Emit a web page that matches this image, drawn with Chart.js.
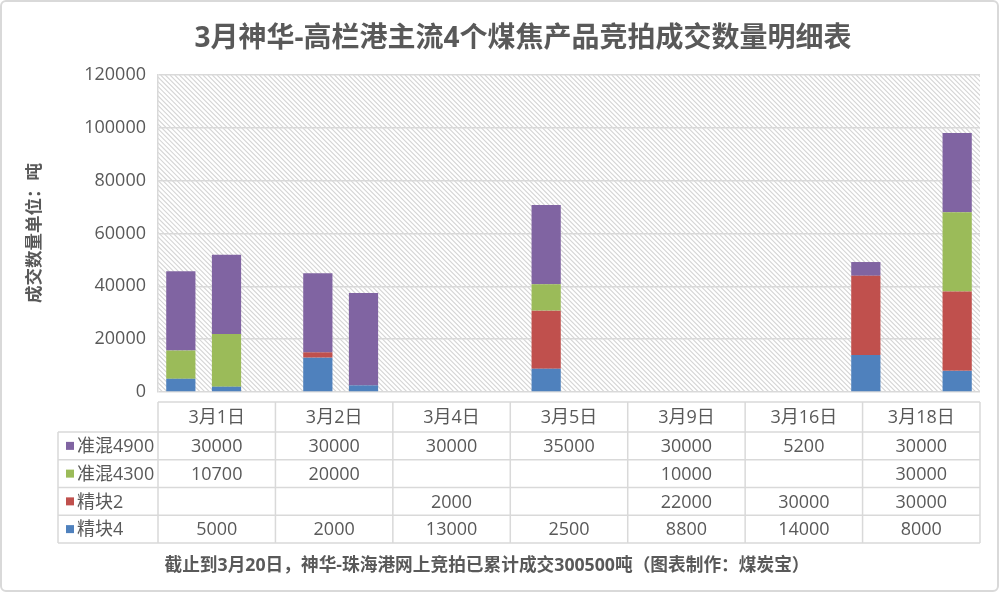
<!DOCTYPE html>
<html lang="zh">
<head>
    <meta charset="UTF-8">
    <title>3月神华-高栏港主流4个煤焦产品竞拍成交数量明细表</title>
    <script src="https://cdn.jsdelivr.net/npm/chart.js"></script>
    <style>
        body { margin: 0; background: #fff; }
        #wrap { width: 1000px; height: 593px; position: relative; }
    </style>
</head>
<body>

    <div id="wrap"><canvas id="auctionChart"></canvas></div>

    <script>
        // 表格里的日期，以及它们在日期轴上的位置（3月1日 ~ 3月18日）
        var dates = ['3月1日', '3月2日', '3月4日', '3月5日', '3月9日', '3月16日', '3月18日'];
        var dayOfMonth = [1, 2, 4, 5, 9, 16, 18];
        var firstDay = 1, lastDay = 18;

        var zhunhun4900 = [30000, 30000, 30000, 35000, 30000, 5200, 30000];
        var zhunhun4300 = [10700, 20000, null, null, 10000, null, 30000];
        var jingkuai2   = [null, null, 2000, null, 22000, 30000, 30000];
        var jingkuai4   = [5000, 2000, 13000, 2500, 8800, 14000, 8000];

        var yMax = 120000, yStep = 20000;

        var FONT = '"Open Sans", "Noto Sans CJK SC", sans-serif';
        var TEXT = '#595959';
        var LINE = '#d9d9d9';

        // rows of the data table, top to bottom
        var series = [
            { name: '准混4900', values: zhunhun4900, color: '#8064a2' },
            { name: '准混4300', values: zhunhun4300, color: '#9bbb59' },
            { name: '精块2',    values: jingkuai2,   color: '#c0504d' },
            { name: '精块4',    values: jingkuai4,   color: '#4f81bd' }
        ];

        var dayLabels = [];
        for (var d = firstDay; d <= lastDay; d++) dayLabels.push('3月' + d + '日');

        function toDaySlots(values) {
            var slots = dayLabels.map(function () { return null; });
            dayOfMonth.forEach(function (day, i) { slots[day - firstDay] = values[i]; });
            return slots;
        }

        // stack from the bottom: 精块4, 精块2, 准混4300, 准混4900
        var datasets = series.slice().reverse().map(function (s) {
            return {
                label: s.name,
                data: toDaySlots(s.values),
                backgroundColor: s.color,
                borderWidth: 0,
                barPercentage: 0.64,
                categoryPercentage: 1.0
            };
        });

        var tablePlugin = {
            id: 'dataTable',
            beforeDraw: function (chart) {
                var ctx = chart.ctx, a = chart.chartArea;
                ctx.save();
                ctx.fillStyle = '#fff';
                ctx.fillRect(0, 0, chart.width, chart.height);

                // diagonal hatch in the plot area
                ctx.beginPath();
                ctx.rect(a.left, a.top, a.right - a.left, a.bottom - a.top);
                ctx.clip();
                ctx.strokeStyle = '#d6d6d6';
                ctx.lineWidth = 1.1;
                var h = a.bottom - a.top;
                ctx.beginPath();
                for (var x = a.left - h; x < a.right; x += 4.7) {
                    ctx.moveTo(x, a.top);
                    ctx.lineTo(x + h, a.bottom);
                }
                ctx.stroke();
                ctx.restore();
            },
            afterDraw: function (chart) {
                var ctx = chart.ctx, a = chart.chartArea;
                var colW = (a.right - a.left) / dates.length;
                var headTop = 402, headBottom = 432, rowH = 27.75, tableLeft = 58;
                var tableBottom = headBottom + rowH * series.length;

                ctx.save();

                // table grid
                ctx.strokeStyle = LINE;
                ctx.lineWidth = 1.5;
                ctx.beginPath();
                ctx.moveTo(a.left, headTop);
                ctx.lineTo(a.right, headTop);
                for (var r = 0; r <= series.length; r++) {
                    ctx.moveTo(tableLeft, headBottom + rowH * r);
                    ctx.lineTo(a.right, headBottom + rowH * r);
                }
                ctx.moveTo(tableLeft, headBottom);
                ctx.lineTo(tableLeft, tableBottom);
                for (var c = 0; c <= dates.length; c++) {
                    ctx.moveTo(a.left + colW * c, headTop);
                    ctx.lineTo(a.left + colW * c, tableBottom);
                }
                ctx.stroke();

                // header and values
                ctx.fillStyle = TEXT;
                ctx.font = '18px ' + FONT;
                ctx.textAlign = 'center';
                ctx.textBaseline = 'middle';
                dates.forEach(function (label, i) {
                    ctx.fillText(label, a.left + colW * (i + 0.5), (headTop + headBottom) / 2 + 1);
                });
                series.forEach(function (s, r) {
                    var cy = headBottom + rowH * (r + 0.5) + 1;
                    s.values.forEach(function (v, i) {
                        if (v === null) return;
                        ctx.fillText(String(v), a.left + colW * (i + 0.5), cy);
                    });
                    ctx.fillStyle = s.color;
                    ctx.fillRect(66, cy - 5, 8, 8);
                    ctx.fillStyle = TEXT;
                    ctx.textAlign = 'left';
                    ctx.fillText(s.name, 77, cy);
                    ctx.textAlign = 'center';
                });

                // title, footnote, y axis title
                ctx.font = 'bold 28px ' + FONT;
                ctx.fillText('3月神华-高栏港主流4个煤焦产品竞拍成交数量明细表', 523, 39);
                ctx.font = 'bold 17.7px ' + FONT;
                ctx.fillText('截止到3月20日，神华-珠海港网上竞拍已累计成交300500吨（图表制作：煤炭宝）', 487, 566);
                ctx.font = 'bold 17.5px ' + FONT;
                ctx.save();
                ctx.translate(35, 233);
                ctx.rotate(-Math.PI / 2);
                ctx.fillText('成交数量单位：吨', 0, 0);
                ctx.restore();

                // outer frame
                ctx.strokeStyle = LINE;
                ctx.lineWidth = 2;
                ctx.beginPath();
                ctx.roundRect(1, 1, chart.width - 3, chart.height - 3, 5);
                ctx.stroke();

                ctx.restore();
            }
        };

        new Chart(document.getElementById('auctionChart').getContext('2d'), {
            type: 'bar',
            data: { labels: dayLabels, datasets: datasets },
            options: {
                responsive: true,
                maintainAspectRatio: false,
                animation: false,
                layout: { padding: { left: 0, top: 75, right: 20, bottom: 201 } },
                plugins: {
                    legend: { display: false },
                    tooltip: { enabled: false }
                },
                scales: {
                    x: {
                        stacked: true,
                        display: false
                    },
                    y: {
                        stacked: true,
                        min: 0,
                        max: yMax,
                        afterFit: function (scale) { scale.width = 158; },
                        ticks: {
                            stepSize: yStep,
                            padding: 12,
                            color: TEXT,
                            font: { family: FONT, size: 18 },
                            callback: function (value) { return String(value); }
                        },
                        grid: { color: LINE, lineWidth: 1.5, drawTicks: false },
                        border: { display: true, color: LINE, width: 1.5 }
                    }
                }
            },
            plugins: [tablePlugin]
        });
    </script>
</body>
</html>
